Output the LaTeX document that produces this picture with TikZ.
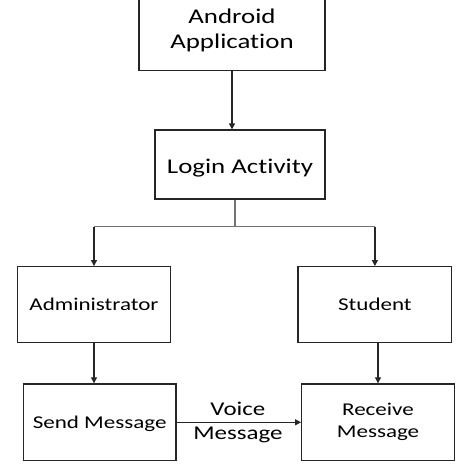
\documentclass[tikz,border=0pt]{standalone}
\usepackage{fontspec}
\setmainfont{Carlito}[FakeStretch=1.28,Ligatures={NoCommon,NoRequired,NoContextual}]
\usetikzlibrary{arrows.meta}
\begin{document}
\begin{tikzpicture}[x=1pt,y=-1pt,
  box/.style={draw=black!85, line width=1.3pt, align=center, inner sep=0pt,
    font=\fontsize{18}{22}\selectfont, text=black},
  onebox/.style={box, text depth=0pt},
  bigbox/.style={box, font=\fontsize{21}{25}\selectfont},
  conn/.style={draw=black!85, line width=1.2pt, -{Triangle[length=6pt,width=6pt]}},
  plain/.style={draw=black!55, line width=1.2pt}]
\useasboundingbox (0,0) rectangle (474,474);
\clip (0,0) rectangle (474,474);
\node[bigbox, minimum width=186pt, minimum height=80pt] (app) at (232,30.7) {Android\\Application};
\node[bigbox, text depth=0pt, minimum width=170pt, minimum height=69pt] (login) at (240,164.5) {\raisebox{-3.5pt}{Login Activity}};
\node[onebox, minimum width=153.4pt, minimum height=76pt] (admin) at (94,304.7) {Administrator};
\node[onebox, minimum width=153.7pt, minimum height=76pt] (student) at (374.9,304.7) {Student};
\node[onebox, minimum width=152.7pt, minimum height=76.7pt] (send) at (99.7,422.3) {Send Message};
\node[box, minimum width=152.6pt, minimum height=76.7pt] (recv) at (378,422.3) {Receive\\Message};
\coordinate (split) at (235,226.7);
\draw[conn] (app.south) -- (app.south |- login.north);
\draw[plain] (login.south -| split) -- (split);
\draw[plain] (admin.north |- split) -- (student.north |- split);
\draw[conn] (admin.north |- split) -- (admin.north);
\draw[conn] (student.north |- split) -- (student.north);
\draw[conn] (admin.south) -- (admin.south |- send.north);
\draw[conn] (student.south -| recv.north) -- (recv.north);
\draw[conn] (send.east) -- node[align=center, font=\fontsize{19.5}{23.6}\selectfont, text=black, xshift=-1pt] (voice) {Voice\\Message} (recv.west);
\end{tikzpicture}
\end{document}
